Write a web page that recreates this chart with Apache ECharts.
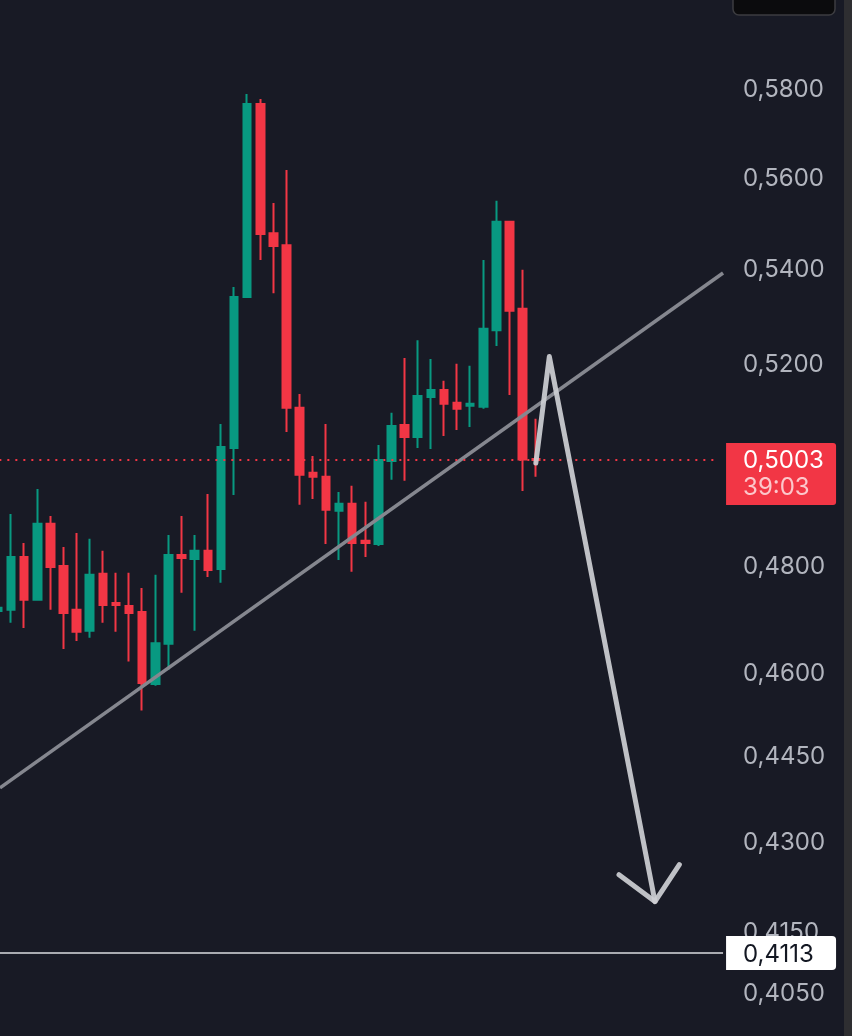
<!DOCTYPE html>
<html>
<head>
<meta charset="utf-8">
<script src="https://cdn.jsdelivr.net/npm/echarts@6/dist/echarts.min.js"></script>
<style>
html,body{margin:0;padding:0;background:#181a25;}
#chart{width:852px;height:1036px;}
</style>
</head>
<body>
<div id="chart"></div>
<script>
// ---- data ----
const slots = 56; // candle slots incl. empty future area
const categories = Array.from({length: slots}, (_, i) => 'c' + i);
const opens  = [0.4712,0.4714,0.4814,0.4733,0.4878,0.4797,0.4714,0.4675,0.4782,0.4727,0.4721,0.4710,0.4577,0.4651,0.4818,0.4810,0.4826,0.4791,0.5027,0.5338,0.5763,0.5475,0.5449,0.5108,0.4978,0.4970,0.4903,0.4917,0.4845,0.4839,0.5001,0.5073,0.5049,0.5130,0.5144,0.5118,0.5112,0.5110,0.5268,0.5500,0.5313,0.5005];
const closes = [0.4718,0.4814,0.4733,0.4878,0.4795,0.4708,0.4673,0.4780,0.4723,0.4723,0.4708,0.4579,0.4652,0.4818,0.4812,0.4826,0.4789,0.5029,0.5338,0.5763,0.5473,0.5447,0.5108,0.4974,0.4970,0.4905,0.4917,0.4841,0.4841,0.5003,0.5071,0.5049,0.5132,0.5144,0.5116,0.5106,0.5116,0.5271,0.5500,0.5309,0.5004,0.5003];
const lows   = [0.4708,0.4690,0.4680,0.4733,0.4714,0.4641,0.4656,0.4662,0.4690,0.4673,0.4618,0.4529,0.4574,0.4603,0.4746,0.4675,0.4776,0.4765,0.4934,0.5338,0.5417,0.5346,0.5059,0.4915,0.4926,0.4839,0.4808,0.4786,0.4814,0.4835,0.4964,0.4962,0.5027,0.5025,0.5051,0.5063,0.5069,0.5106,0.5235,0.5134,0.4942,0.4970];
const highs  = [0.4722,0.4897,0.4841,0.4946,0.4893,0.4833,0.4860,0.4849,0.4826,0.4784,0.4784,0.4755,0.4780,0.4856,0.4893,0.4856,0.4936,0.5075,0.5359,0.5786,0.5775,0.5541,0.5614,0.5136,0.5011,0.5075,0.4940,0.4952,0.4921,0.5033,0.5098,0.5210,0.5247,0.5208,0.5163,0.5198,0.5194,0.5417,0.5546,0.5502,0.5396,0.5086];
const priceTicks = [0.58, 0.56, 0.54, 0.52, 0.48, 0.46, 0.445, 0.43, 0.415, 0.405];
const currentPrice = 0.5003;
const countdown = '39:03';
const supportPrice = 0.4113;
const trendX = [0.16, 55.27];
const trendY = [0.4392, 0.5389];
const arrowX = [41.0, 42.03, 50.08];
const arrowY = [0.4997, 0.5213, 0.4198];
const arrowHeadX = [47.34, 50.08, 51.94];
const arrowHeadY = [0.4243, 0.4198, 0.4260];
const yRange = [0.39797, 0.60064];

// ---- build ----
const fmt = v => Number(v).toFixed(4).replace('.', ',');
const candleData = opens.map((o, i) => [o, closes[i], lows[i], highs[i]]);
const pairs = (xs, ys) => xs.map((x, i) => [x, ys[i]]);
const FONT = 'Inter, "Noto Sans", sans-serif';

const chart = echarts.init(document.getElementById('chart'), null, {renderer: 'canvas'});
const option = {
  backgroundColor: '#181a25',
  animation: false,
  grid: { left: -8.66, right: 125.94, top: 0, bottom: 0, containLabel: false, outerBoundsMode: 'none' },
  xAxis: [
    { type: 'category', data: categories, boundaryGap: true, show: false },
    { type: 'value', min: -0.5, max: slots - 0.5, show: false }
  ],
  yAxis: {
    type: 'log', logBase: 10, min: yRange[0], max: yRange[1], position: 'right',
    axisLine: { show: false }, axisTick: { show: false }, splitLine: { show: false },
    axisLabel: {
      customValues: priceTicks, margin: 17,
      formatter: v => '{p|' + fmt(v) + '}',
      rich: { p: { color: '#b2b5be', fontSize: 24, fontFamily: FONT, padding: [4, 0, 0, 0] } }
    }
  },
  graphic: [
    { type: 'rect', shape: { x: 844, y: 0, width: 8, height: 1036 }, style: { fill: '#2e2e31' } },
    { type: 'rect', shape: { x: 733, y: -6, width: 102, height: 21, r: 6 }, style: { fill: '#0b0b0d', stroke: '#3c3c40', lineWidth: 1.5 } }
  ],
  series: [
    {
      type: 'candlestick', xAxisIndex: 0, yAxisIndex: 0, data: candleData, barWidth: 8, z: 2,
      itemStyle: { color: '#089981', color0: '#f23645', borderColor: '#089981', borderColor0: '#f23645', borderWidth: 2 }
    },
    {
      type: 'line', xAxisIndex: 1, yAxisIndex: 0, data: pairs(trendX, trendY), symbol: 'none', z: 3,
      lineStyle: { color: '#85878f', width: 3.5 }
    },
    {
      type: 'line', xAxisIndex: 1, yAxisIndex: 0, data: [[-0.5, supportPrice], [55.27, supportPrice]], symbol: 'none', z: 3,
      lineStyle: { color: '#a9abb1', width: 2 }
    },
    {
      type: 'line', xAxisIndex: 1, yAxisIndex: 0, data: [[-0.5, currentPrice], [54.9, currentPrice]], symbol: 'none', z: 4,
      lineStyle: { color: '#f23645', width: 2, type: [2, 6] }
    },
    {
      type: 'line', xAxisIndex: 1, yAxisIndex: 0, data: pairs(arrowX, arrowY), symbol: 'none', z: 5,
      lineStyle: { color: 'rgba(206,207,212,0.92)', width: 5, cap: 'round', join: 'round' }
    },
    {
      type: 'line', xAxisIndex: 1, yAxisIndex: 0, data: pairs(arrowHeadX, arrowHeadY), symbol: 'none', z: 5,
      lineStyle: { color: 'rgba(206,207,212,0.92)', width: 5, cap: 'round', join: 'round' }
    },
    {
      type: 'custom', xAxisIndex: 1, yAxisIndex: 0, z: 10, clip: false,
      data: [[slots - 0.5, currentPrice, 0], [slots - 0.5, supportPrice, 1]],
      renderItem: (params, api) => {
        const kind = api.value(2);
        const price = api.value(1);
        const p = api.coord([api.value(0), price]);
        const x0 = params.coordSys.x + params.coordSys.width;
        if (kind === 0) {
          return { type: 'group', children: [
            { type: 'rect', shape: { x: x0, y: p[1] - 17, width: 110, height: 62, r: [0, 3, 3, 0] }, style: { fill: '#f23645' } },
            { type: 'text', style: { x: x0 + 17, y: p[1] + 1, text: fmt(price), fill: '#ffffff', font: '24px ' + FONT, verticalAlign: 'middle', textVerticalAlign: 'middle' } },
            { type: 'text', style: { x: x0 + 17, y: p[1] + 27.5, text: countdown, fill: 'rgba(255,255,255,0.72)', font: '24px ' + FONT, verticalAlign: 'middle', textVerticalAlign: 'middle' } }
          ]};
        }
        return { type: 'group', children: [
          { type: 'rect', shape: { x: x0, y: p[1] - 17, width: 110, height: 34, r: [0, 4, 4, 0] }, style: { fill: '#ffffff' } },
          { type: 'text', style: { x: x0 + 17, y: p[1] + 2, text: fmt(price), fill: '#131722', font: '24px ' + FONT, verticalAlign: 'middle', textVerticalAlign: 'middle' } }
        ]};
      }
    }
  ]
};
chart.setOption(option);
</script>
</body>
</html>
